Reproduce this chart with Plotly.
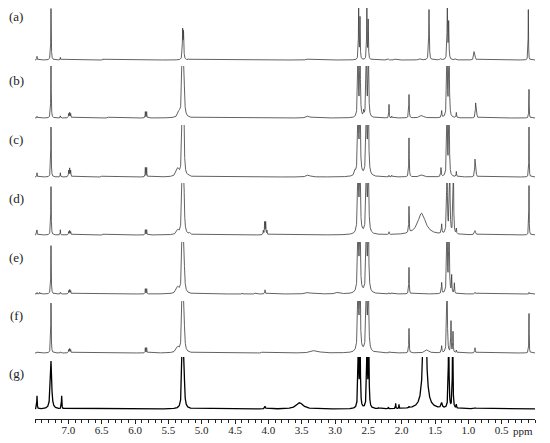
import numpy as np
import plotly.graph_objects as go

# ---- data: peaks as (ppm, relative height, half-width in ppm) ----
# height 1.0 = full height of one trace band; taller peaks run off the band top (clipped)
LABELS = ["(a)", "(b)", "(c)", "(d)", "(e)", "(f)", "(g)"]

PEAKS_A = [(7.47, 0.07, 0.003), (7.26, 0.99, 0.004), (7.12, 0.05, 0.003), (6.48, 0.02, 0.003),
           (5.285, 0.55, 0.005), (5.272, 0.50, 0.005), (5.20, 0.02, 0.004), (3.42, 0.015, 0.02),
           (2.645, 0.99, 0.004), (2.625, 0.80, 0.004), (2.522, 0.99, 0.004), (2.502, 0.75, 0.004),
           (2.20, 0.02, 0.004), (2.14, 0.015, 0.004), (2.10, 0.015, 0.004), (1.73, 0.02, 0.015),
           (1.59, 0.97, 0.005), (1.42, 0.02, 0.01), (1.315, 0.99, 0.005), (1.295, 0.70, 0.005),
           (1.20, 0.02, 0.005), (0.915, 0.15, 0.006), (0.90, 0.08, 0.006), (0.10, 0.97, 0.003)]

PEAKS_B = [(7.47, 0.03, 0.003), (7.26, 1.00, 0.004), (7.12, 0.04, 0.003),
           (6.995, 0.08, 0.004), (6.98, 0.10, 0.004), (6.965, 0.08, 0.004), (6.40, 0.015, 0.004),
           (5.845, 0.12, 0.003), (5.825, 0.12, 0.003),
           (5.29, 1.5, 0.008), (5.27, 1.4, 0.008), (5.34, 0.10, 0.02), (3.40, 0.04, 0.03),
           (2.655, 1.5, 0.006), (2.625, 1.5, 0.006), (2.57, 0.10, 0.005), (2.53, 1.5, 0.006), (2.50, 1.5, 0.006),
           (2.19, 0.26, 0.003), (2.15, 0.03, 0.003), (1.89, 0.45, 0.004), (1.70, 0.05, 0.03),
           (1.40, 0.13, 0.005), (1.32, 1.5, 0.006), (1.29, 1.5, 0.006), (1.18, 0.10, 0.004),
           (0.89, 0.28, 0.005), (0.875, 0.10, 0.005), (0.09, 0.55, 0.003)]

PEAKS_C = [(7.47, 0.08, 0.003), (7.26, 0.96, 0.004), (7.12, 0.08, 0.003),
           (6.995, 0.12, 0.004), (6.98, 0.16, 0.004), (6.965, 0.12, 0.004), (6.50, 0.015, 0.004),
           (5.845, 0.18, 0.003), (5.825, 0.18, 0.003),
           (5.29, 1.5, 0.008), (5.27, 1.4, 0.008), (5.36, 0.15, 0.025), (5.20, 0.03, 0.01), (3.40, 0.04, 0.03),
           (2.70, 0.08, 0.01), (2.655, 1.5, 0.006), (2.625, 1.5, 0.006), (2.64, 0.3, 0.02),
           (2.53, 1.5, 0.006), (2.50, 1.5, 0.006), (2.515, 0.3, 0.02),
           (2.19, 0.03, 0.003), (2.15, 0.03, 0.003), (1.89, 0.75, 0.004), (1.70, 0.04, 0.03),
           (1.41, 0.17, 0.005), (1.32, 1.5, 0.006), (1.29, 1.5, 0.006), (1.18, 0.10, 0.004),
           (0.90, 0.33, 0.005), (0.885, 0.12, 0.005), (0.09, 0.96, 0.003)]

PEAKS_D = [(7.47, 0.10, 0.003), (7.26, 0.93, 0.004), (7.12, 0.10, 0.003),
           (6.995, 0.06, 0.004), (6.98, 0.08, 0.004), (6.965, 0.06, 0.004), (6.48, 0.02, 0.004),
           (5.845, 0.10, 0.003), (5.825, 0.10, 0.003),
           (5.29, 1.5, 0.008), (5.27, 1.4, 0.008), (5.36, 0.08, 0.02), (5.18, 0.03, 0.01),
           (4.075, 0.08, 0.004), (4.055, 0.24, 0.004), (4.04, 0.24, 0.004), (4.02, 0.08, 0.004),
           (2.655, 1.5, 0.006), (2.625, 1.5, 0.006), (2.64, 0.3, 0.02),
           (2.53, 1.5, 0.006), (2.50, 1.5, 0.006), (2.515, 0.3, 0.02),
           (2.19, 0.05, 0.003), (1.89, 0.50, 0.004), (1.70, 0.42, 0.07), (1.40, 0.18, 0.005),
           (1.32, 1.5, 0.006), (1.28, 1.5, 0.006), (1.225, 1.5, 0.005), (1.18, 0.10, 0.004),
           (0.90, 0.08, 0.01), (0.09, 0.95, 0.003)]

PEAKS_E = [(7.47, 0.03, 0.003), (7.43, 0.03, 0.003), (7.26, 0.93, 0.004), (7.12, 0.03, 0.003),
           (6.995, 0.06, 0.004), (6.98, 0.08, 0.004), (6.965, 0.06, 0.004),
           (5.845, 0.10, 0.003), (5.825, 0.10, 0.003),
           (5.29, 1.5, 0.008), (5.27, 1.4, 0.008), (5.36, 0.12, 0.025),
           (4.39, 0.02, 0.003), (4.20, 0.015, 0.003), (4.05, 0.08, 0.005), (3.40, 0.03, 0.04), (2.96, 0.03, 0.03),
           (2.655, 1.5, 0.006), (2.625, 1.5, 0.006), (2.64, 0.3, 0.02),
           (2.53, 1.5, 0.006), (2.50, 1.5, 0.006), (2.515, 0.3, 0.02),
           (2.19, 0.02, 0.003), (2.15, 0.02, 0.003), (1.89, 0.51, 0.004), (1.40, 0.21, 0.005),
           (1.32, 1.5, 0.006), (1.29, 1.5, 0.006), (1.25, 0.33, 0.004), (1.21, 0.20, 0.004),
           (0.90, 0.03, 0.006), (0.09, 0.03, 0.003)]

PEAKS_F = [(7.47, 0.02, 0.003), (7.26, 0.96, 0.004), (7.12, 0.02, 0.003),
           (6.995, 0.06, 0.004), (6.98, 0.08, 0.004), (6.965, 0.06, 0.004),
           (5.845, 0.10, 0.003), (5.825, 0.10, 0.003),
           (5.29, 1.5, 0.008), (5.27, 1.4, 0.008), (5.36, 0.10, 0.025),
           (4.10, 0.02, 0.005), (3.30, 0.05, 0.06),
           (2.655, 1.5, 0.006), (2.625, 1.5, 0.006), (2.64, 0.3, 0.02),
           (2.53, 1.5, 0.006), (2.50, 1.5, 0.006), (2.515, 0.3, 0.02),
           (2.19, 0.02, 0.003), (1.89, 0.47, 0.004), (1.62, 0.06, 0.03), (1.40, 0.13, 0.005),
           (1.32, 1.5, 0.006), (1.26, 0.60, 0.004), (1.23, 0.40, 0.004), (1.18, 0.05, 0.004),
           (0.90, 0.10, 0.005), (0.09, 0.76, 0.003)]

PEAKS_G = [(7.47, 0.25, 0.004), (7.26, 0.92, 0.012), (7.10, 0.25, 0.004),
           (5.29, 1.5, 0.008), (5.27, 1.5, 0.008), (4.05, 0.05, 0.008), (3.53, 0.12, 0.06),
           (2.65, 1.5, 0.006), (2.625, 1.5, 0.006), (2.52, 1.5, 0.006), (2.495, 1.5, 0.006),
           (2.35, 0.02, 0.003), (2.20, 0.03, 0.003), (2.09, 0.10, 0.003), (2.04, 0.08, 0.003),
           (1.89, 0.03, 0.003), (1.655, 2.9, 0.022), (1.40, 0.10, 0.01),
           (1.295, 1.5, 0.006), (1.235, 1.5, 0.005), (1.18, 0.07, 0.004), (0.90, 0.02, 0.02)]

SPECTRA = [PEAKS_A, PEAKS_B, PEAKS_C, PEAKS_D, PEAKS_E, PEAKS_F, PEAKS_G]
TICK_VALUES = [7.0, 6.5, 6.0, 5.5, 5.0, 4.5, 4.0, 3.5, 3.0, 2.5, 2.0, 1.5, 1.0, 0.5]
TICK_LABELS = ["7.0", "6.5", "6.0", "5.5", "5.0", "4.5", "4.0", "3.5", "3.0", "2.5", "2.0", "1.5", "1.0", "0.5"]
PPM_RANGE = [7.5, 0.0]

# ---- layout geometry (pixels of the 550x443 window; the page body has an 8px margin) ----
WIN_W, WIN_H, OFF = 550, 443, 8
W, H = WIN_W - OFF, WIN_H - OFF
BASELINES = [60, 118, 177, 235, 294, 353, 409]
BAND = 52          # px from baseline to band top
BELOW = 3          # px below baseline
LABEL_Y = [16, 80, 140, 198, 257, 315, 373]
AXIS_Y = 419
SERIF = "Liberation Serif, Times New Roman, serif"

def px(p):
    return (p - OFF) / W

def py(p):
    return 1 - (p - OFF) / H

ppm = np.linspace(0.0, 7.5, 15001)

def spectrum(peaks):
    y = np.zeros_like(ppm)
    for x0, h, w in peaks:
        y += h / (1 + ((ppm - x0) / w) ** 2)
    return np.round(y, 4)

fig = go.Figure()
for i, peaks in enumerate(SPECTRA):
    yname = "y" if i == 0 else f"y{i+1}"
    last = i == len(SPECTRA) - 1
    fig.add_trace(go.Scatter(x=ppm, y=spectrum(peaks), mode="lines", xaxis="x", yaxis=yname,
                             line=dict(color="#000000" if last else "#3a3a3a", width=1.3 if last else 0.8),
                             hoverinfo="skip", showlegend=False))
    key = "yaxis" if i == 0 else f"yaxis{i+1}"
    b = BASELINES[i]
    fig.layout[key] = dict(domain=[py(b + BELOW), py(b - BAND)], range=[-BELOW / BAND, 1.0],
                           visible=False, fixedrange=True, anchor="x")

fig.update_layout(
    width=W, height=H, margin=dict(l=0, r=0, t=0, b=0),
    paper_bgcolor="white", plot_bgcolor="white",
    xaxis=dict(domain=[px(35), px(535)], range=PPM_RANGE, anchor="free", position=py(AXIS_Y),
               showline=True, linecolor="#222", linewidth=1, showgrid=False, zeroline=False,
               ticks="outside", ticklen=4, tickcolor="#222", tickwidth=1,
               tickmode="array", tickvals=TICK_VALUES, ticktext=TICK_LABELS,
               ticklabelstandoff=-3,
               tickfont=dict(family=SERIF, size=11, color="#222"),
               minor=dict(ticks="outside", ticklen=2.5, tickcolor="#222", tickmode="linear",
                          tick0=0, dtick=0.1, showgrid=False)),
)

for i, lab in enumerate(LABELS):
    fig.add_annotation(x=px(16), y=py(LABEL_Y[i]), xref="paper", yref="paper", text=lab,
                       xanchor="center", yanchor="middle",
                       showarrow=False, font=dict(family=SERIF, size=13, color="#222"))
fig.add_annotation(x=0.18, y=py(431), xref="x", yref="paper", text="ppm", showarrow=False,
                   xanchor="center", yanchor="middle",
                   font=dict(family=SERIF, size=11, color="#222"))

fig.write_html("out.html")
